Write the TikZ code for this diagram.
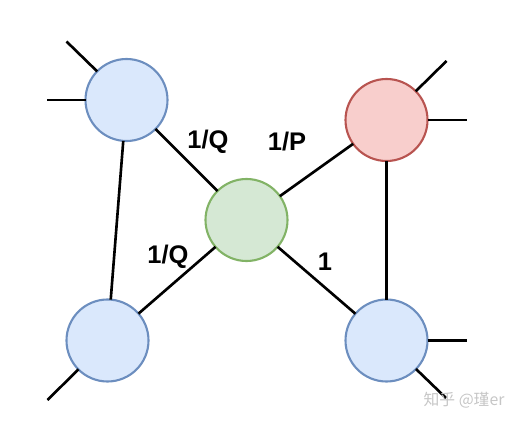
\documentclass[tikz,border=0pt]{standalone}
\usepackage{fontspec}
\setmainfont{Liberation Sans}
\newfontfamily\cjk{Noto Sans CJK SC}
\definecolor{blueFill}{HTML}{DAE8FC}
\definecolor{blueLine}{HTML}{6C8EBF}
\definecolor{redFill}{HTML}{F8CECC}
\definecolor{redLine}{HTML}{B85450}
\definecolor{greenFill}{HTML}{D5E8D4}
\definecolor{greenLine}{HTML}{82B366}
\tikzset{
	site/.style={circle, minimum size=1.64cm, inner sep=0pt, outer sep=0pt, line width=1.2pt},
	blueSite/.style={site, draw=blueLine, fill=blueFill},
	redSite/.style={site, draw=redLine, fill=redFill},
	greenSite/.style={site, draw=greenLine, fill=greenFill},
	bond/.style={line width=1.5pt, black},
	weight/.style={font=\bfseries\fontsize{14.5}{16}\selectfont}
}
\begin{document}
\begin{tikzpicture}
		\useasboundingbox (0, 0) rectangle (10.4, 8.4);
		\node[blueSite] (tl) at (2.53, 6.4) {};
		\node[redSite] (tr) at (7.73, 6.0) {};
		\node[greenSite] (mid) at (4.93, 4.0) {};
		\node[blueSite] (bl) at (2.15, 1.59) {};
		\node[blueSite] (br) at (7.73, 1.59) {};
		\coordinate (tlA) at (1.33, 7.57);
		\coordinate (tlB) at (0.93, 6.4);
		\coordinate (trA) at (8.93, 7.18);
		\coordinate (trB) at (9.33, 6.0);
		\coordinate (blA) at (0.95, 0.4);
		\coordinate (brA) at (9.33, 1.59);
		\coordinate (brB) at (8.92, 0.44);
		\draw[bond] (tl) -- (mid);
		\draw[bond] (tr) -- (mid);
		\draw[bond] (bl) -- (mid);
		\draw[bond] (br) -- (mid);
		\draw[bond] (tl) -- (bl);
		\draw[bond] (tr) -- (br);
		\draw[bond] (tl) -- (tlA);
		\draw[bond] (tl) -- (tlB);
		\draw[bond] (tr) -- (trA);
		\draw[bond] (tr) -- (trB);
		\draw[bond] (bl) -- (blA);
		\draw[bond] (br) -- (brA);
		\draw[bond] (br) -- (brB);
		\node[weight] (wTL) at (4.16, 5.56) {1/Q};
		\node[weight] (wTR) at (5.74, 5.56) {1/P};
		\node[weight] (wBL) at (3.36, 3.26) {1/Q};
		\node[weight] (wBR) at (6.5, 3.16) {1};
		\node[font=\cjk\fontsize{9}{11}\selectfont, text=gray!45] (mark) at (9.28, 0.4) {知乎 @瑾er};
	\end{tikzpicture}
\end{document}
